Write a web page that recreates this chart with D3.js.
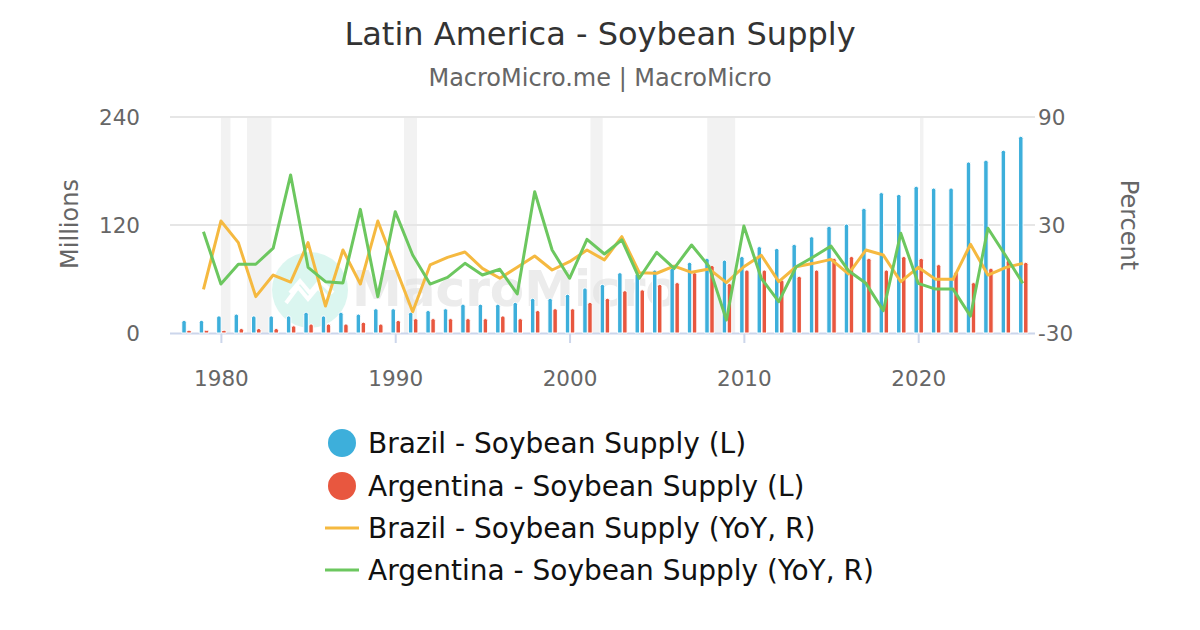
<!DOCTYPE html>
<html><head><meta charset="utf-8">
<script src="https://cdn.jsdelivr.net/npm/d3@7"></script>
<style>body{margin:0;background:#fff;} svg{display:block;font-family:"DejaVu Sans",sans-serif;}</style>
</head><body><svg id="c" width="1200" height="630"></svg>
<script>
const barYears = d3.range(1978, 2027);
const brazilSupply = [14,14,19,21,19,19,19,23,19,23,21,27,27,23,25,27,32,32,32,34,38.5,38.5,43,50,54,67,66,70,72,78.5,83,81,85,96,94,98.5,107,118.5,121,138.5,156,154,163,161,161,190,192,203,218.5];
const argentinaSupply = [3,3,3,5,5,5,8,10,10,10,12,10,14,16,16,16,16,16,19,16,25,27,27,34,38.5,47,48,54,56,67,75,55,70,70,59,63,70,83,85,83,70,85,83,76,68,56,72,81,78.5];
const lineYears = d3.range(1979, 2027);
const brazilYoY = [-5.7,32.2,20.2,-9.8,2.2,-1.7,20.2,-15,16.1,-2.8,32.2,6.8,-18.2,7.8,12,15,5.9,0.4,6.5,12.8,5,9.6,16.1,10.6,23.5,3.5,3.2,7.2,3.7,5.6,-2,6.8,13.2,-1.5,6.8,8.7,10.9,2.8,16.1,13.3,-1.5,6.5,-0.2,-0.2,19.3,2.2,6.3,8.7];
const argentinaYoY = [26.3,-2.8,8.2,8.2,17.1,57.8,6.5,-1.5,-2.2,38.7,-9.8,37.4,13.3,-2.8,0.9,8.7,2.2,5.4,-8.3,48.5,16.1,0.4,22,13.9,21.7,0.4,14.8,5.9,18.9,7,-22.8,29.4,0.4,-12.6,6.8,12.4,18.3,4.6,-2.4,-17.6,25.4,-2.4,-5.6,-5.6,-20.6,28.2,13.2,-2.4];
const recessions = [[1980.0,1980.55],[1981.5,1982.9],[1990.5,1991.25],[2001.2,2001.9],[2007.9,2009.5],[2020.1,2020.3]];
const leftTicks = [0,120,240];
const rightTicks = [-30,30,90];
const xTicks = [1980,1990,2000,2010,2020];
const legendItems = ["Brazil - Soybean Supply (L)","Argentina - Soybean Supply (L)","Brazil - Soybean Supply (YoY, R)","Argentina - Soybean Supply (YoY, R)"];
const colors = ["#3dafdb","#e8573f","#f5b940","#6cc75f"];

const svg = d3.select("#c");
const L = 170, R = 1035, T = 117, B = 333;
const x = d3.scaleLinear().domain([1980,2020]).range([220.9,918.2]);
const yL = d3.scaleLinear().domain([0,240]).range([B,T]);
const yR = d3.scaleLinear().domain([-30,90]).range([B,T]);

// title
svg.append("text").attr("x",600).attr("y",45).attr("text-anchor","middle").attr("font-size",32).attr("fill","#333").text("Latin America - Soybean Supply");
svg.append("text").attr("x",600).attr("y",86).attr("text-anchor","middle").attr("font-size",24).attr("fill","#666").text("MacroMicro.me | MacroMicro");

// recession bands
svg.append("g").selectAll("rect").data(recessions).join("rect")
  .attr("x",d=>x(d[0])).attr("width",d=>x(d[1])-x(d[0])).attr("y",T).attr("height",B-T).attr("fill","#f2f2f2");

// grid
svg.append("g").selectAll("line").data(leftTicks.filter(d=>d>0)).join("line")
  .attr("x1",L).attr("x2",R).attr("y1",d=>yL(d)).attr("y2",d=>yL(d)).attr("stroke","#e6e6e6").attr("stroke-width",2);

// watermark
const wm = svg.append("g").attr("opacity",0.9);
wm.append("circle").attr("cx",310).attr("cy",290).attr("r",38).attr("fill","#d8f6ef");
wm.append("polyline").attr("points","286,303 298,287 308,299 318,287 328,299").attr("fill","none").attr("stroke","#fff").attr("stroke-width",4);
wm.append("polyline").attr("points","290,293 300,281 310,293 320,281 333,293").attr("fill","none").attr("stroke","#fff").attr("stroke-width",4);
wm.append("text").attr("x",352).attr("y",306).attr("font-size",50).attr("font-weight","bold").attr("fill","#e3e3e3").attr("opacity",0.75).text("MacroMicro");

// axis labels
svg.append("g").selectAll("text").data(leftTicks).join("text")
  .attr("x",140).attr("y",d=>yL(d)+8).attr("text-anchor","end").attr("font-size",21.5).attr("fill","#666").text(d=>d);
svg.append("g").selectAll("text").data(rightTicks).join("text")
  .attr("x",1038).attr("y",d=>yR(d)+8).attr("text-anchor","start").attr("font-size",21.5).attr("fill","#666").text(d=>d);
svg.append("text").attr("transform","translate(78,224) rotate(-90)").attr("text-anchor","middle").attr("font-size",24).attr("fill","#666").text("Millions");
svg.append("text").attr("transform","translate(1121,225) rotate(90)").attr("text-anchor","middle").attr("font-size",24).attr("fill","#666").text("Percent");

// x axis
const xa = svg.append("g").attr("transform",`translate(0,${B})`).call(d3.axisBottom(x).tickValues(xTicks).tickFormat(d3.format("d")).tickSize(10).tickPadding(28));
xa.select(".domain").attr("d",`M${L},0.5H${R}`).attr("stroke","#ccd6eb").attr("stroke-width",2);
xa.selectAll(".tick line").attr("stroke","#ccd6eb").attr("stroke-width",2);
xa.selectAll(".tick text").attr("font-size",21.5).attr("fill","#666").attr("font-family","DejaVu Sans");

// bars
function barPath(cx, v, w){
  const x0 = cx - w/2, y0 = yL(v), r = Math.min(2, (B-y0)/2);
  return `M${x0},${B}V${y0+r}Q${x0},${y0} ${x0+r},${y0}H${x0+w-r}Q${x0+w},${y0} ${x0+w},${y0+r}V${B}Z`;
}
const bw = 4.5;
svg.append("g").selectAll("path").data(barYears).join("path")
  .attr("d",(d,i)=>barPath(x(d)-2, brazilSupply[i], bw)).attr("fill",colors[0]).attr("stroke","#fff").attr("stroke-width",1);
svg.append("g").selectAll("path").data(barYears).join("path")
  .attr("d",(d,i)=>barPath(x(d)+3, argentinaSupply[i], bw)).attr("fill",colors[1]).attr("stroke","#fff").attr("stroke-width",1);

// lines
const line = d3.line().x(d=>x(d[0])).y(d=>yR(d[1]));
svg.append("path").datum(lineYears.map((y,i)=>[y,brazilYoY[i]])).attr("d",line).attr("fill","none").attr("stroke",colors[2]).attr("stroke-width",3).attr("stroke-linejoin","round");
svg.append("path").datum(lineYears.map((y,i)=>[y,argentinaYoY[i]])).attr("d",line).attr("fill","none").attr("stroke",colors[3]).attr("stroke-width",3).attr("stroke-linejoin","round");

// legend
const lg = svg.append("g");
const ly = [443,486,528,570];
legendItems.forEach((t,i)=>{
  if(i<2) lg.append("circle").attr("cx",342).attr("cy",ly[i]).attr("r",14).attr("fill",colors[i]);
  else lg.append("line").attr("x1",325).attr("x2",359).attr("y1",ly[i]).attr("y2",ly[i]).attr("stroke",colors[i]).attr("stroke-width",3);
  lg.append("text").attr("x",368).attr("y",ly[i]+10).attr("font-size",28).attr("fill","#111").text(t);
});
</script></body></html>
